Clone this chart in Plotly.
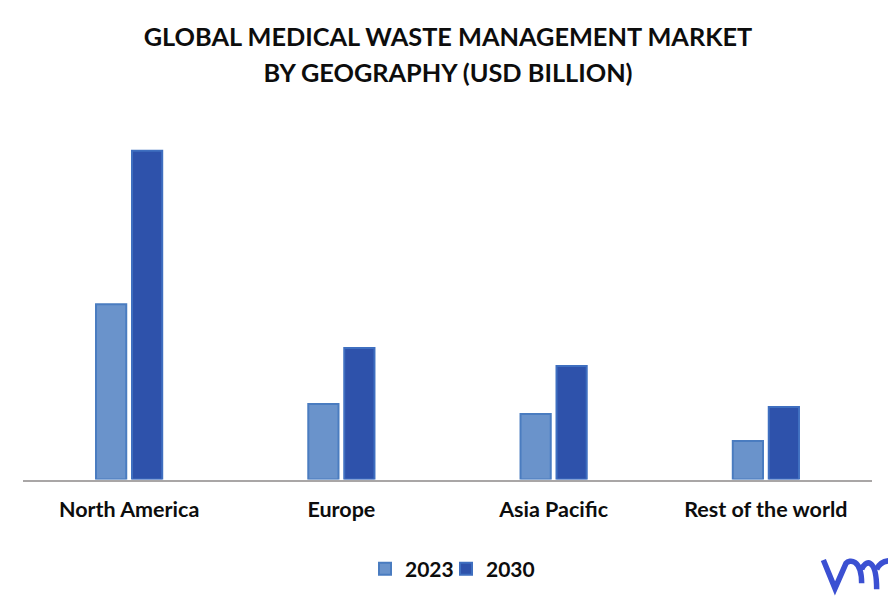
import plotly.graph_objects as go

regions = ["North America", "Europe", "Asia Pacific", "Rest of the world"]
values_2023 = [5.01, 2.16, 1.87, 1.10]
values_2030 = [9.39, 3.76, 3.24, 2.07]

# The page body has an 8 px margin, so the figure is sized and placed to fit inside it
PAGE_MARGIN = 8
W, H = 896 - PAGE_MARGIN, 603 - PAGE_MARGIN
TEXT = "#0d0d0d"
FONT = "Lato, 'Open Sans', sans-serif"


def fx(x):
    return (x - PAGE_MARGIN) / W


def fy(y):
    return 1 - (y - PAGE_MARGIN) / H


fig = go.Figure()
fig.add_bar(
    name="2023", x=regions, y=values_2023, legend="legend",
    marker=dict(color="#6a93cb", line=dict(color="#4a7cc0", width=2)),
)
fig.add_bar(
    name="2030", x=regions, y=values_2030, legend="legend2",
    marker=dict(color="#2e52ab", line=dict(color="#3f6fc0", width=2)),
)

logo_pts = [
    "M", (190, 90), "L", (225, 175), "L", (258, 100),
    "C", (268, 88), (305, 85), (305, 160),
    "M", (305, 118), "C", (315, 90), (350, 80), (350, 178),
    "M", (350, 118), "C", (358, 100), (372, 92), (392, 92),
]
parts = []
for p in logo_pts:
    if isinstance(p, str):
        parts.append(p)
    else:
        parts.append(f"{fx(760 + p[0] / 3):.4f},{fy(530 + p[1] / 3):.4f}")
logo_path = " ".join(parts)

title_size = '<span style="font-size:25.3px">{}</span>'
title_text = "<br>".join(
    title_size.format(line)
    for line in ["GLOBAL MEDICAL WASTE MANAGEMENT MARKET", "BY GEOGRAPHY (USD BILLION)"]
)

legend_font = dict(family=FONT, size=21, color=TEXT, weight="bold")
NO_FILL = "rgba(0,0,0,0)"

fig.update_layout(
    width=W, height=H, autosize=False,
    margin=dict(l=0, r=0, t=0, b=0),
    paper_bgcolor="white", plot_bgcolor="white",
    barmode="group", bargap=0.661, bargroupgap=0.16,
    font=dict(family=FONT, color=TEXT, size=21),
    showlegend=True,
    legend=dict(
        orientation="h", x=fx(365), xanchor="left", y=fy(569), yanchor="middle",
        font=legend_font, itemwidth=30, bgcolor=NO_FILL,
    ),
    legend2=dict(
        orientation="h", x=fx(446), xanchor="left", y=fy(569), yanchor="middle",
        font=legend_font, itemwidth=30, bgcolor=NO_FILL,
    ),
    title=dict(
        text=title_text,
        x=fx(448), xanchor="center", y=fy(46), yanchor="middle",
        font=dict(family=FONT, size=27.7, color=TEXT, weight="bold"),
    ),
    xaxis=dict(
        domain=[fx(23), fx(872)], showgrid=False, zeroline=False,
        showline=True, linecolor="#a9a6a6", linewidth=2, ticks="",
        tickfont=dict(family=FONT, size=21.5, color=TEXT, weight="bold"),
        ticklabelstandoff=10,
    ),
    yaxis=dict(
        domain=[fy(479.5), fy(129.5)], range=[0, 10], visible=False,
    ),
    shapes=[dict(
        type="path", xref="paper", yref="paper", path=logo_path,
        line=dict(color="#3b50d2", width=5.5), fillcolor=NO_FILL,
    )],
)

fig.write_html("out.html")
